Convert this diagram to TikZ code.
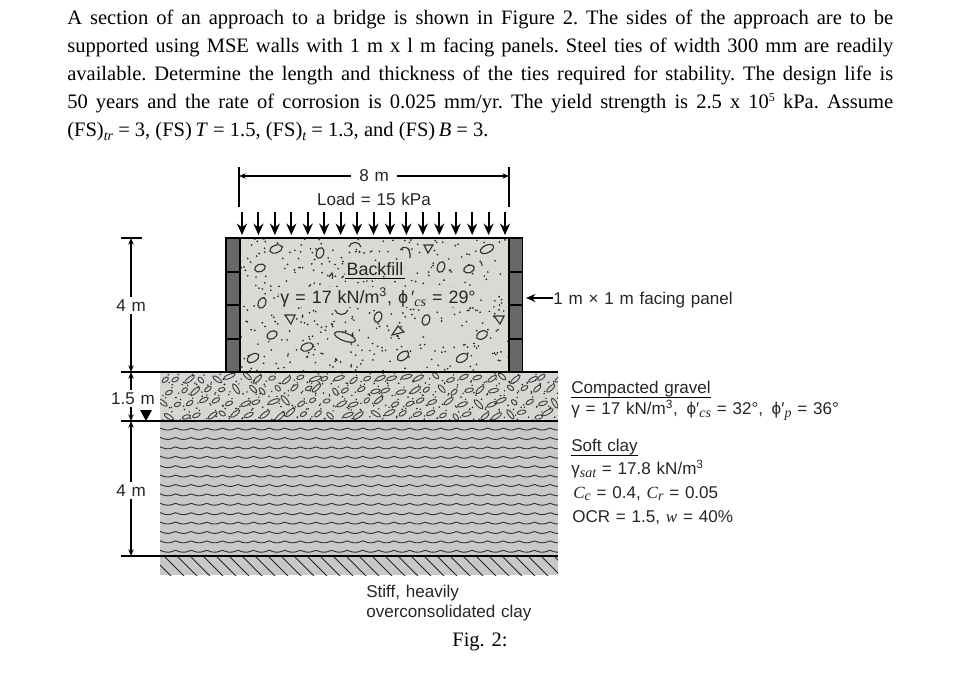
\documentclass[tikz,border=0pt]{standalone}
\usepackage{fontspec}
\setmainfont{Liberation Serif}
\setsansfont[WordSpace=1.22]{Liberation Sans}
\usetikzlibrary{arrows.meta}
\definecolor{fillsoil}{RGB}{216,219,213}
\definecolor{fillgravel}{RGB}{214,214,210}
\definecolor{fillclay}{RGB}{200,200,200}
\definecolor{fillpanel}{RGB}{104,105,102}
\newcommand{\lowtxt}[1]{\raisebox{-0.35ex}{\fontsize{10.5}{10.5}\selectfont\rmfamily\itshape #1}}
\newcommand{\bodyline}[1]{\makebox[619.5pt][s]{\frenchspacing #1}}
\tikzset{
    bodytext/.style={anchor=base west, inner sep=0pt, font=\rmfamily\fontsize{15.4}{15.4}\selectfont},
    label/.style={anchor=base west, inner sep=0pt, font=\sffamily\fontsize{12.8}{12.8}\selectfont, text=black!85},
    midlabel/.style={label, anchor=base, fill=white, inner xsep=2pt, inner ysep=2pt},
    soillabel/.style={midlabel, fill=fillsoil, inner xsep=1pt, inner ysep=0.5pt, font=\sffamily\fontsize{13.4}{13.4}\selectfont},
    dimline/.style={line width=0.9pt, {Stealth[length=5pt,width=4pt]}-{Stealth[length=5pt,width=4pt]}},
    tick/.style={line width=0.9pt},
    load/.style={line width=1.5pt, -{Stealth[length=8.5pt,width=7.5pt]}},
    stratum/.style={line width=1.4pt},
    pebble/.style={line width=0.85pt, black!80},
    gravelstone/.style={line width=0.7pt, black!75},
}
\begin{document}
\begin{tikzpicture}[x=0.75pt, y=-0.75pt]
    \useasboundingbox (0,0) rectangle (957,688);
    \pgfmathsetseed{14}

    % problem statement
    \node[bodytext] at (67, 25)  (l1) {\bodyline{A section of an approach to a bridge is shown in Figure 2. The sides of the approach are to be}};
    \node[bodytext] at (67, 53)  (l2) {\bodyline{supported using MSE walls with 1 m x l m facing panels. Steel ties of width 300 mm are readily}};
    \node[bodytext] at (67, 81)  (l3) {\bodyline{available. Determine the length and thickness of the ties required for stability. The design life is}};
    \node[bodytext] at (67, 109) (l4) {\bodyline{50 years and the rate of corrosion is 0.025 mm/yr. The yield strength is 2.5 x 10\raisebox{0.75ex}{\fontsize{9}{9}\selectfont 5} kPa. Assume}};
    \node[bodytext] at (67, 137) (l5) {\frenchspacing (FS)\lowtxt{tr} = 3, (FS)\,\textit{T} = 1.5, (FS)\lowtxt{t} = 1.3, and (FS)\,\textit{B} = 3.};

    % soil layers
    \fill[fillgravel] (160,372) rectangle (558,421);
    \fill[fillclay] (160,421) rectangle (558,575);
    \fill[fillsoil] (240,238) rectangle (509,372);

    % gravel
    \begin{scope}
        \clip (160,372) rectangle (558,421);
        \foreach \x in {0,...,29} {
            \foreach \y in {0,...,3} {
                \pgfmathsetmacro\px{163+13.6*\x+6.8*mod(\y,2)+3*rand}
                \pgfmathsetmacro\py{378+12.2*\y+2.5*rand}
                \pgfmathsetmacro\pa{rnd<0.18 ? -45+15*rand : 28+16*rand}
                \pgfmathsetmacro\pr{3.2+3.2*rnd}
                \draw[gravelstone, rotate around={\pa:(\px,\py)}] (\px,\py) ellipse [x radius=\pr, y radius=2];
                \fill[black!85] (\px+7,\py+5) circle [radius=0.9];
                \fill[black!85] (\px+3,\py-5) circle [radius=0.8];
                \fill[black!85] (\px-6,\py+3) circle [radius=0.8];
            }
        }
    \end{scope}

    % clay
    \begin{scope}
        \clip (160,421) rectangle (558,556);
        \foreach \y in {428,437.4,...,553} {
            \draw[line width=0.7pt, black!80] plot[domain=160:558, samples=260] (\x, {\y+2*abs(sin((\x-160)*11.538))});
        }
    \end{scope}

    % stiff clay hatching
    \begin{scope}
        \clip (160,556) rectangle (558,575);
        \foreach \x in {125,138,...,560} {
            \draw[line width=0.6pt, black!85] (\x,556) -- (\x+20,576);
        }
    \end{scope}

    % backfill dots
    \begin{scope}
        \clip (240,238) rectangle (509,372);
        \foreach \i in {1,...,420} {
            \pgfmathsetmacro\px{240+134.5+134.5*rand}
            \pgfmathsetmacro\py{238+67+67*rand}
            \fill[black!85] (\px,\py) circle [radius=0.95];
        }
    \end{scope}

    % backfill stones
    \foreach \x/\y/\a/\r in {276/249/20/6.5, 320/253/70/5.5, 260/268/20/5.5, 487/249/25/7, 441/267/70/5.5, 469/269/20/5.5, 262/303/65/5.5, 378/317/70/5.5, 426/320/70/5.5, 272/335/30/5.5, 307/347/20/6.5, 253/358/30/6.5, 403/356/35/6.5, 462/358/30/6.5, 482/335/30/6} {
        \draw[pebble, fill=fillsoil, rotate around={\a:(\x,\y)}] (\x,\y) ellipse [x radius=\r, y radius=3.8];
    }
    \draw[pebble, fill=fillsoil, rotate around={-20:(345,337)}] (345,337) ellipse [x radius=11, y radius=4];
    \draw[pebble, fill=fillsoil] (424,245) -- (433,245) -- (428,253) -- cycle;
    \draw[pebble, fill=fillsoil] (285,315) -- (295,315) -- (291,324) -- cycle;
    \draw[pebble, fill=fillsoil] (392,335) -- (398,326) -- (404,332) -- cycle;
    \draw[pebble, fill=fillsoil] (494,316) -- (504,316) -- (500,324) -- cycle;
    \draw[pebble] (349,247) .. controls (350,241) and (360,241) .. (361,247);
    \draw[pebble] (400,250) .. controls (403,245) and (411,246) .. (410,258);
    \draw[pebble] (335,310) .. controls (337,316) and (346,316) .. (348,310);
    \draw[pebble] (329,277) -- (332,273) -- (333,277);

    % text in the backfill
    \node[soillabel] at (375,275) (hdbackfill) {Backfill};
    \draw[line width=0.9pt] ([yshift=-2.5pt]hdbackfill.base west) -- ([yshift=-2.5pt]hdbackfill.base east);
    \node[soillabel] at (378,303) (propbackfill) {γ = 17 kN/m\textsuperscript{3}, ϕ\,′\lowtxt{cs} = 29°};

    % facing panels
    \foreach \x in {226,509} {
        \foreach \y/\h in {238/272, 272/305, 305/339, 339/372} {
            \draw[line width=1.1pt, fill=fillpanel] (\x,\y) rectangle (\x+13.5,\h);
        }
    }
    \draw[line width=2pt] (226,238) -- (522,238);
    \draw[line width=1.3pt] (240,238) -- (240,372);
    \draw[line width=1.3pt] (509,238) -- (509,372);

    % strata lines
    \coordinate (g1) at (121,372); \coordinate (g2) at (558,372);
    \coordinate (w1) at (121,421); \coordinate (w2) at (558,421);
    \coordinate (s1) at (121,556); \coordinate (s2) at (558,556);
    \coordinate (t1) at (121,238); \coordinate (t2) at (142,238);
    \draw[stratum] (g1) -- (g2);
    \draw[stratum] (w1) -- (w2);
    \draw[stratum] (s1) -- (s2);
    \draw[tick] (t1) -- (t2);

    % water table
    \fill[black] (140,410) -- (152,410) -- (146,421) -- cycle;

    % load
    \foreach \i in {0,...,16} {
        \draw[load] ({242+\i*16.44},212) -- ({242+\i*16.44},235);
    }

    % dimensions
    \coordinate (a1) at (239,176); \coordinate (a2) at (509,176);
    \draw[tick] (239,167) -- (239,207);
    \draw[tick] (509,167) -- (509,207);
    \draw[dimline] (a1) -- (a2);
    \node[midlabel] at (374,182) (dimtop) {\,\,8 m\,\,};
    \node[midlabel, fill=none] at (374,206) (dimload) {Load = 15 kPa};

    \coordinate (b1) at (131,238); \coordinate (b2) at (131,372);
    \draw[dimline] (b1) -- (b2);
    \node[midlabel] at (131,311) (dimwall) {4 m};

    \coordinate (b3) at (131,372); \coordinate (b4) at (131,421);
    \draw[dimline] (b3) -- (b4);
    \node[midlabel] at (133,404) (dimgravel) {1.5 m};

    \coordinate (b5) at (131,421); \coordinate (b6) at (131,556);
    \draw[dimline] (b5) -- (b6);
    \node[midlabel] at (131,496) (dimclay) {4 m};

    % labels
    \node[label] at (553,304) (lbpanel) {1 m × 1 m facing panel};
    \coordinate (p1) at (526,298);
    \draw[line width=1.1pt, -{Stealth[length=7pt,width=6pt]}] (lbpanel.west |- 553,298) -- (p1);

    \node[label] at (571,393) (hdgravel) {Compacted gravel};
    \draw[line width=0.9pt] ([yshift=-3.5pt]hdgravel.base west) -- ([yshift=-3.5pt]hdgravel.base east);
    \node[label] at (571,414) (propgravel) {γ = 17 kN/m\textsuperscript{3}, \,ϕ′\lowtxt{cs} = 32°, \,ϕ′\lowtxt{p} = 36°};

    \node[label] at (571,451) (hdclay) {Soft clay};
    \draw[line width=0.9pt] ([yshift=-3.5pt]hdclay.base west) -- ([yshift=-3.5pt]hdclay.base east);
    \node[label] at (571,474) (propclay) {γ\lowtxt{sat} = 17.8 kN/m\textsuperscript{3}};
    \node[label] at (573,498) (propc) {\rmfamily\itshape C\lowtxt{c}\sffamily\upshape{} = 0.4, \rmfamily\itshape C\lowtxt{r}\sffamily\upshape{} = 0.05};
    \node[label] at (572,522) (propocr) {OCR = 1.5, \rmfamily\itshape w\sffamily\upshape{} = 40\%};

    \node[label] at (366,597) (lbstiff) {Stiff, heavily};
    \node[label] at (366,617) (lbover) {overconsolidated clay};
    \node[bodytext, anchor=base] at (480,646) (lbfig) {Fig. 2:};
\end{tikzpicture}
\end{document}
